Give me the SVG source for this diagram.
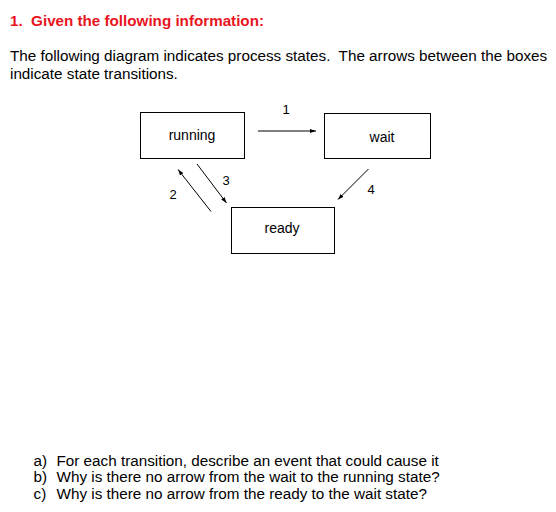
<svg xmlns="http://www.w3.org/2000/svg" width="556" height="512" viewBox="0 0 556 512">
<style>
text{font-family:"Liberation Sans",Arial,sans-serif;fill:#000;white-space:pre}
.title{font-size:15.2px;font-weight:bold;fill:#e8141e}
.body{font-size:15.25px}
.lbl{font-size:14px;text-anchor:middle}
.num{font-size:13px;text-anchor:middle}
.box{fill:#fff;stroke:#000;stroke-width:1}
.conn{stroke:#000;stroke-width:1;fill:none;marker-end:url(#ah)}
</style>
<defs>
<marker id="ah" viewBox="0 0 10 10" refX="10" refY="5" markerWidth="6" markerHeight="6" orient="auto" markerUnits="userSpaceOnUse">
<path d="M0,1.5 L10,5 L0,8.5 z" fill="#000"/>
</marker>
</defs>
<rect width="556" height="512" fill="#fff"/>
<text class="title" x="10" y="26" xml:space="preserve">1.  Given the following information:</text>
<text class="body" x="10" y="61" xml:space="preserve">The following diagram indicates process states.  The arrows between the boxes</text>
<text class="body" x="10" y="78.5">indicate state transitions.</text>
<g id="running">
<rect class="box" x="140.5" y="112.5" width="104" height="46"/>
<text class="lbl" x="192" y="140">running</text>
</g>
<g id="wait">
<rect class="box" x="324.5" y="113.5" width="106" height="45"/>
<text class="lbl" x="382" y="142">wait</text>
</g>
<g id="ready">
<rect class="box" x="231.5" y="207.5" width="103" height="46"/>
<text class="lbl" x="282" y="233">ready</text>
</g>
<g id="connectors">
<line class="conn" x1="258" y1="131" x2="316" y2="131"/>
<line class="conn" x1="211" y1="211.5" x2="178" y2="169.5"/>
<line class="conn" x1="197" y1="164" x2="226.5" y2="203"/>
<line class="conn" x1="368.5" y1="169" x2="338" y2="199.5"/>
<text class="num" x="286" y="114">1</text>
<text class="num" x="173" y="199">2</text>
<text class="num" x="226" y="185">3</text>
<text class="num" x="371" y="194">4</text>
</g>
<text class="body" x="33.5" y="466">a)</text>
<text class="body" x="56.5" y="466">For each transition, describe an event that could cause it</text>
<text class="body" x="33.5" y="482">b)</text>
<text class="body" x="56.5" y="482">Why is there no arrow from the wait to the running state?</text>
<text class="body" x="33.5" y="498.5">c)</text>
<text class="body" x="56.5" y="498.5">Why is there no arrow from the ready to the wait state?</text>
</svg>
